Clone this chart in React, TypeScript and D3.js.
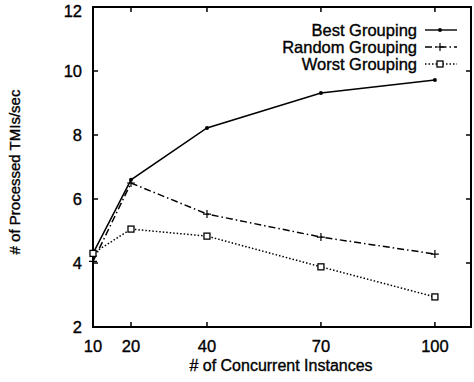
import React from "react";
import * as d3 from "d3";

const instances = [10, 20, 40, 70, 100];
const bestGrouping = [4.3, 6.6, 8.22, 9.31, 9.72];
const randomGrouping = [4.05, 6.5, 5.53, 4.81, 4.28];
const worstGrouping = [4.3, 5.06, 4.84, 3.88, 2.94];
const yTicks = [2, 4, 6, 8, 10, 12];
const xTicks = [10, 20, 40, 70, 100];
const seriesNames = ["Best Grouping", "Random Grouping", "Worst Grouping"];

const W = 474, H = 382;
const L = 93, R = 471, T = 7, B = 327;

export default function App() {
  const x = d3.scaleLinear().domain([10, 109.5]).range([L, R]);
  const y = d3.scaleLinear().domain([2, 12]).range([B, T]);
  const line = d3
    .line<[number, number]>()
    .x((d) => x(d[0]))
    .y((d) => y(d[1]));
  const series = [
    { name: seriesNames[0], vals: bestGrouping, dash: "", marker: "dot" },
    { name: seriesNames[1], vals: randomGrouping, dash: "7,3,1.5,3", marker: "plus" },
    { name: seriesNames[2], vals: worstGrouping, dash: "1.5,2", marker: "square" },
  ];
  const font = "'Liberation Sans', Arial, Helvetica, sans-serif";
  const ts = { stroke: "#000", strokeWidth: 0.35 };
  const marker = (m: string, cx: number, cy: number, k: string) => {
    if (m === "dot") return <circle key={k} cx={cx} cy={cy} r={2} fill="#000" />;
    if (m === "plus")
      return (
        <path key={k} d={`M${cx - 4},${cy}H${cx + 4}M${cx},${cy - 4}V${cy + 4}`} stroke="#000" strokeWidth={1.2} />
      );
    return <rect key={k} x={cx - 3} y={cy - 3} width={6} height={6} fill="#fff" stroke="#000" strokeWidth={1.3} />;
  };
  return (
    <svg width={W} height={H} style={{ position: "absolute", left: 0, top: 0 }} fontFamily={font}>
      <rect x={0} y={0} width={W} height={H} fill="#fff" />
      <rect x={L} y={T} width={R - L} height={B - T} fill="none" stroke="#000" strokeWidth={2} />
      {yTicks.map((t) => (
        <g key={"y" + t}>
          <line x1={L} x2={L + 5} y1={y(t)} y2={y(t)} stroke="#000" strokeWidth={1.5} />
          <line x1={R} x2={R - 5} y1={y(t)} y2={y(t)} stroke="#000" strokeWidth={1.5} />
          <text x={L - 11} y={Math.max(y(t), 11)} dy="0.36em" textAnchor="end" fontSize={16.5} {...ts}>
            {t}
          </text>
        </g>
      ))}
      {xTicks.map((t) => (
        <g key={"x" + t}>
          <line x1={x(t)} x2={x(t)} y1={B} y2={B - 5} stroke="#000" strokeWidth={1.5} />
          <line x1={x(t)} x2={x(t)} y1={T} y2={T + 5} stroke="#000" strokeWidth={1.5} />
          <text x={x(t)} y={352} textAnchor="middle" fontSize={16.5} {...ts}>
            {t}
          </text>
        </g>
      ))}
      <text x={281} y={371} textAnchor="middle" fontSize={16} {...ts}>
        # of Concurrent Instances
      </text>
      <text transform={`translate(20,172) rotate(-90)`} textAnchor="middle" fontSize={15} {...ts}>
        # of Processed TMIs/sec
      </text>
      {series.map((s) => {
        const pts = instances.map((v, i) => [v, s.vals[i]] as [number, number]);
        return (
          <g key={s.name}>
            <path d={line(pts) || ""} fill="none" stroke="#000" strokeWidth={1.5} strokeDasharray={s.dash} />
            {pts.map((p, i) => marker(s.marker, x(p[0]), y(p[1]), s.name + i))}
          </g>
        );
      })}
      {series.map((s, si) => {
        const ly = 30 + si * 17;
        return (
          <g key={"lg" + s.name}>
            <text x={417} y={ly} dy="0.36em" textAnchor="end" fontSize={16.5} {...ts}>
              {s.name}
            </text>
            <line x1={425} x2={457} y1={ly} y2={ly} stroke="#000" strokeWidth={1.4} strokeDasharray={s.dash} />
            {marker(s.marker, 440, ly, "lm" + si)}
          </g>
        );
      })}
    </svg>
  );
}
